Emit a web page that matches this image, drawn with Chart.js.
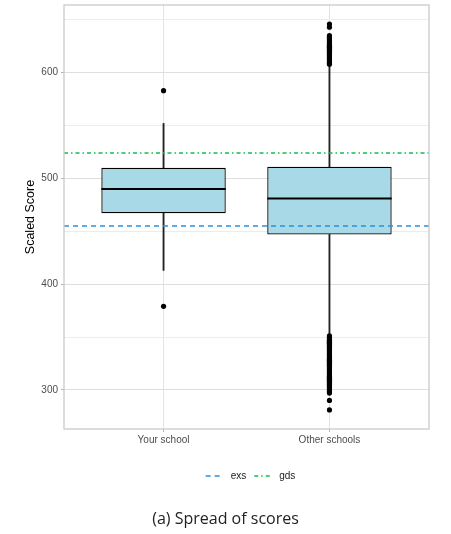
<!DOCTYPE html>
<html>
<head>
<meta charset="utf-8">
<script src="https://cdn.jsdelivr.net/npm/chart.js@4/dist/chart.umd.min.js"></script>
<style>
  body { margin: 0; background: #fff; }
</style>
</head>
<body>
<canvas id="chart" width="451" height="534"></canvas>
<script>
const categories = ['Your school', 'Other schools'];
const lowerWhisker = [413, 352];
const q1 = [467, 447];
const median = [490, 481];
const q3 = [510, 511];
const upperWhisker = [552, 607];
const outliersYour = [583, 379];
const outliersOther = [646, 643, 635, 634, 633, 632, 631, 630, 629, 628, 627, 626, 625, 624, 623, 622, 621, 620, 619, 618, 617, 616, 615, 614, 613, 612, 611, 610, 609, 608,
  351, 350, 349, 348, 347, 346, 345, 344, 343, 342, 341, 340, 339, 338, 337, 336, 335, 334, 333, 332, 331, 330, 329, 328, 327, 326, 325, 324, 323, 322, 321, 320,
  319, 318, 317, 316, 315, 314, 313, 312, 311, 310, 309, 308, 307, 306, 305, 304, 303, 302, 301, 300, 299, 298, 297, 290, 281];
const exsLevel = 455;
const gdsLevel = 524;
const yGrid = [300, 350, 400, 450, 500, 550, 600, 650];
const yTicks = [300, 400, 500, 600];

const xMin = 0.4, xMax = 2.6;

// caja, mediana y bigotes como barras flotantes
const boxData = categories.map((c, i) => ({ x: i + 1, y: [q1[i], q3[i]] }));
const medianData = categories.map((c, i) => ({ x: i + 1, y: [median[i] - 1, median[i] + 1] }));
const upperData = categories.map((c, i) => ({ x: i + 1, y: [q3[i], upperWhisker[i]] }));
const lowerData = categories.map((c, i) => ({ x: i + 1, y: [lowerWhisker[i], q1[i]] }));
const outlierData = outliersYour.map(v => ({ x: 1, y: v })).concat(outliersOther.map(v => ({ x: 2, y: v })));

// borde del panel
const panelBorder = {
  id: 'panelBorder',
  afterDraw(chart) {
    const { ctx, chartArea } = chart;
    ctx.save();
    ctx.strokeStyle = '#cacaca';
    ctx.lineWidth = 1.3;
    ctx.strokeRect(chartArea.left, chartArea.top, chartArea.right - chartArea.left, chartArea.bottom - chartArea.top);
    ctx.restore();
  }
};

// leyenda con líneas discontinuas (la de Chart.js no dibuja el patrón)
const lineLegend = {
  id: 'lineLegend',
  afterDraw(chart) {
    const { ctx, chartArea } = chart;
    const items = chart.data.datasets.filter(d => d.type === 'line');
    const sample = 16, gap = 9, spacing = 8;
    ctx.save();
    ctx.font = '10px "Liberation Sans"';
    const widths = items.map(d => sample + gap + ctx.measureText(d.label).width);
    const total = widths.reduce((a, b) => a + b, 0) + spacing * (items.length - 1);
    let x = (chartArea.left + chartArea.right) / 2 + 4 - total / 2;
    const y = chartArea.bottom + 47;
    items.forEach((d, i) => {
      ctx.strokeStyle = d.borderColor;
      ctx.lineWidth = d.borderWidth;
      ctx.setLineDash(d.borderDash);
      ctx.beginPath();
      ctx.moveTo(x, y);
      ctx.lineTo(x + sample, y);
      ctx.stroke();
      ctx.setLineDash([]);
      ctx.fillStyle = '#1a1a1a';
      ctx.textBaseline = 'middle';
      ctx.fillText(d.label, x + sample + gap, y);
      x += widths[i] + spacing;
    });
    ctx.restore();
  }
};

const ctx = document.getElementById('chart').getContext('2d');
new Chart(ctx, {
  type: 'bar',
  data: {
    datasets: [
      {
        type: 'line', label: 'exs', order: 0,
        data: [{ x: xMin, y: exsLevel }, { x: xMax, y: exsLevel }],
        borderColor: '#2f8fd6', borderWidth: 1.4, borderDash: [5, 4], pointRadius: 0
      },
      {
        type: 'line', label: 'gds', order: 1,
        data: [{ x: xMin, y: gdsLevel }, { x: xMax, y: gdsLevel }],
        borderColor: '#12bf48', borderWidth: 1.4, borderDash: [4, 3, 1.5, 3], pointRadius: 0
      },
      {
        type: 'scatter', label: 'outliers', order: 2,
        data: outlierData,
        backgroundColor: '#000', borderWidth: 0, pointRadius: 2.6
      },
      {
        label: 'median', order: 3, data: medianData, grouped: false,
        backgroundColor: '#000', borderWidth: 0,
        barPercentage: 0.75, categoryPercentage: 1
      },
      {
        label: 'box', order: 4, data: boxData, grouped: false,
        backgroundColor: '#a8d9e6', borderColor: '#000', borderWidth: 1.3, borderSkipped: false,
        barPercentage: 0.75, categoryPercentage: 1
      },
      {
        label: 'upper', order: 5, data: upperData, grouped: false,
        backgroundColor: '#222', barThickness: 1.2
      },
      {
        label: 'lower', order: 6, data: lowerData, grouped: false,
        backgroundColor: '#222', barThickness: 1.2
      }
    ]
  },
  options: {
    responsive: false,
    animation: false,
    layout: { autoPadding: false, padding: { top: 5, right: 0, left: 0, bottom: 0 } },
    scales: {
      x: {
        type: 'linear', min: xMin, max: xMax, offset: false,
        afterBuildTicks: s => { s.ticks = categories.map((c, i) => ({ value: i + 1 })); },
        afterFit: s => { s.height = 50.4; s.paddingLeft = 0; s.paddingRight = 0; },
        ticks: {
          callback: v => categories[v - 1],
          color: '#4d4d4d', font: { family: 'Liberation Sans', size: 10 }, padding: 2,
          maxRotation: 0
        },
        grid: { offset: false, color: '#e3e3e3', tickColor: '#b3b3b3', tickLength: 3 },
        border: { display: false }
      },
      y: {
        min: 263, max: 664,
        afterBuildTicks: s => { s.ticks = yGrid.map(v => ({ value: v })); },
        afterFit: s => { s.width = 64; s.paddingTop = 0; s.paddingBottom = 0; },
        ticks: {
          callback: v => yTicks.includes(v) ? v : '',
          color: '#4d4d4d', font: { family: 'Liberation Sans', size: 10 }, padding: 3
        },
        grid: {
          color: c => yTicks.includes(c.tick.value) ? '#dedede' : '#ececec',
          tickColor: c => yTicks.includes(c.tick.value) ? '#b3b3b3' : 'rgba(0,0,0,0)',
          tickLength: 3
        },
        border: { display: false },
        title: {
          display: true, text: 'Scaled Score', color: '#000',
          font: { family: 'Liberation Sans', size: 12.5 }, padding: { top: 23, bottom: 4 }
        }
      },
      yRight: {
        position: 'right', display: true,
        afterFit: s => { s.width = 22; s.paddingTop = 0; s.paddingBottom = 0; },
        ticks: { display: false },
        grid: { display: false, drawTicks: false },
        border: { display: false }
      }
    },
    plugins: {
      legend: { display: false },
      title: {
        display: true, position: 'bottom', text: '(a) Spread of scores',
        color: '#222', font: { family: 'Open Sans', size: 16, weight: 'normal' },
        padding: { top: 30, bottom: 5.4 }
      },
      tooltip: { enabled: false }
    }
  },
  plugins: [panelBorder, lineLegend]
});
</script>
</body>
</html>
